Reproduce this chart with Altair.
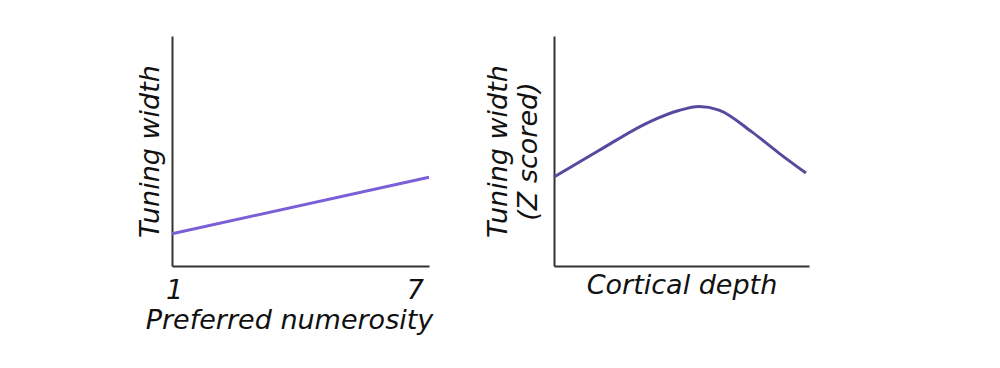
import altair as alt
import pandas as pd

# Left panel: tuning width vs preferred numerosity
num_x = [0.95, 7.35]
num_y = [1.40, 3.86]

# Right panel: tuning width (Z scored) vs cortical depth
depth_x = [0.0, 0.176, 0.373, 0.49, 0.569, 0.647, 0.776, 0.882, 0.988]
depth_y = [3.87, 5.02, 6.26, 6.76, 6.93, 6.78, 5.83, 4.91, 4.04]

num_ticks = [1, 7]

FONT = "DejaVu Sans"
FS = 27

left_df = pd.DataFrame({"x": num_x, "y": num_y})
right_df = pd.DataFrame({"x": depth_x, "y": depth_y})

left = alt.Chart(left_df).mark_line(color="#7B5FD6", strokeWidth=3).encode(
    x=alt.X("x:Q", scale=alt.Scale(domain=[0.95, 7.35], nice=False, zero=False),
            axis=alt.Axis(values=num_ticks, title="Preferred numerosity",
                          labelFontSize=27, labelPadding=11, titleFontSize=FS,
                          titlePadding=4, labelFlush=False, titleX=117)),
    y=alt.Y("y:Q", scale=alt.Scale(domain=[0, 10], nice=False),
            axis=alt.Axis(labels=False, title="Tuning width", titleFontSize=FS,
                          titlePadding=8)),
).properties(width=257, height=230)

right = alt.Chart(right_df).mark_line(color="#574A9E", strokeWidth=3, interpolate="monotone").encode(
    x=alt.X("x:Q", scale=alt.Scale(domain=[0, 1], nice=False),
            axis=alt.Axis(labels=False, title="Cortical depth", titleFontSize=FS,
                          titlePadding=6)),
    y=alt.Y("y:Q", scale=alt.Scale(domain=[0, 10], nice=False),
            axis=alt.Axis(labels=False, title=["Tuning width", "(Z scored)"],
                          titleFontSize=FS, titlePadding=12, titleLineHeight=30)),
).properties(width=255, height=230)

chart = alt.hconcat(left, right, spacing=49).properties(
    padding={"left": 128, "top": 28, "right": 5, "bottom": 5}
).configure_view(stroke=None).configure_axis(
    grid=False, ticks=False, domainColor="#333333", domainWidth=2,
    labelFont=FONT, titleFont=FONT, labelFontStyle="italic", titleFontStyle="italic",
    titleFontWeight="normal", labelColor="#111111", titleColor="#111111",
)

chart.save("out.html", embed_options={"renderer": "svg", "actions": False})
